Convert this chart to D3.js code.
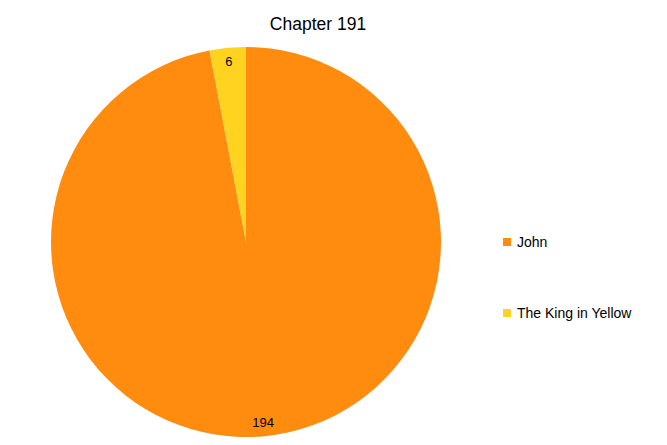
<!DOCTYPE html>
<html>
<head>
<meta charset="utf-8">
<script src="https://cdn.jsdelivr.net/npm/d3@7"></script>
<style>
  body { margin: 0; background: #fff; }
  text { font-family: "Liberation Sans", Arial, sans-serif; fill: #000; }
</style>
</head>
<body>
<script>
var width = 667;
var height = 445;

var names = ['John', 'The King in Yellow'];
var counts = [194, 6];
var colors = ['#ff8c0f', '#ffd320'];

var cx = 246, cy = 242, radius = 195;

var svg = d3.select('body')
    .append('svg')
    .attr('width', width)
    .attr('height', height);

svg.append('text')
    .attr('x', 318)
    .attr('y', 30)
    .attr('text-anchor', 'middle')
    .style('font-size', '17.5px')
    .text('Chapter 191');

var color = d3.scaleOrdinal().domain(names).range(colors);

var pie = d3.pie()
    .sort(null)
    .value(function (d, i) { return counts[i]; });

var arc = d3.arc().innerRadius(0).outerRadius(radius);
var labelArc = d3.arc().innerRadius(181).outerRadius(181);

var g = svg.append('g').attr('transform', 'translate(' + cx + ',' + cy + ')');

var slices = pie(names);

g.selectAll('path')
    .data(slices)
    .enter()
    .append('path')
    .attr('d', arc)
    .attr('fill', function (d) { return color(d.data); });

g.selectAll('text.lbl')
    .data(slices)
    .enter()
    .append('text')
    .attr('class', 'lbl')
    .attr('transform', function (d) { return 'translate(' + labelArc.centroid(d) + ')'; })
    .attr('text-anchor', 'middle')
    .attr('dy', '0.35em')
    .style('font-size', '13px')
    .text(function (d) { return d.value; });

// legend
var legendY = d3.scalePoint().domain(names).range([242, 313]);

var legend = svg.selectAll('g.legend')
    .data(names)
    .enter()
    .append('g')
    .attr('class', 'legend')
    .attr('transform', function (d) { return 'translate(503,' + legendY(d) + ')'; });

legend.append('rect')
    .attr('x', 0)
    .attr('y', -4)
    .attr('width', 8)
    .attr('height', 8)
    .attr('fill', function (d) { return color(d); });

legend.append('text')
    .attr('x', 14)
    .attr('dy', '0.35em')
    .style('font-size', '14px')
    .text(function (d) { return d; });
</script>
</body>
</html>
